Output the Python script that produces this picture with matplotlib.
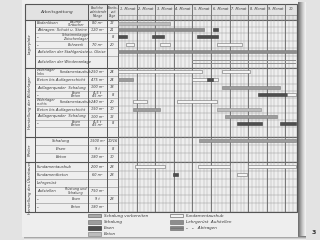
import matplotlib
matplotlib.use("Agg")
import matplotlib.pyplot as plt
from matplotlib.patches import Rectangle, Patch
import numpy as np

# ---------------- data ----------------
months = ["1. Monat", "2. Monat", "3. Monat", "4. Monat", "5. Monat",
          "6. Monat", "7. Monat", "8. Monat", "9. Monat", "10."]
sections = ["Lagerplatz", "Herstellung der Widerlager", "Pfeiler",
            "Herstellung des Überbaues"]
section_first_row = [0, 6, 15, 18]

tasks = ["Bodenlösen", "Abtragen: Schutt u. Steine", "„", "„",
         "Aufstellen der Stahlgerüste u. Gleise", "Aufstellen der Windenanlage",
         "Widerlager\nlinks", "Beton bis Auflagerschicht", "Auflagerquader  Schalung", "„",
         "Widerlager\nrechts", "Beton bis Auflagerschicht", "Auflagerquader  Schalung", "„", "",
         "Schalung", "Eisen", "Beton",
         "Fundamentaushub", "Fundamentbeton", "Lehrgerüst", "Aufstellen", "„", "„"]
task_sub = ["Bäume\nSträucher", "", "Schwimmbagger\nZwischenlager", "Bohrwerk", "", "",
            "Fundamentaushub", "", "", "Eisen\nBeton",
            "Fundamentaushub", "", "", "Eisen\nBeton", "",
            "", "", "",
            "", "", "", "Rüstung und\nSchalung", "Eisen", "Beton"]
quantities = ["80 m²", "120 m³", "", "70 m³", "", "",
              "250 m³", "475 m³", "100 m²", "4,5 t\n45 m³",
              "240 m³", "150 m³", "100 m²", "4,5 t\n45 m³", "",
              "1500 m²", "9 t", "180 m³",
              "200 m³", "60 m³", "", "750 m²", "9 t", "180 m³"]
work_days = ["12", "21", "8", "20", "", "",
             "24", "24", "18", "8",
             "20", "10", "12", "8", "",
             "10/16", "8", "10",
             "28", "28", "", "", "28", ""]

bar_row = [0, 1, 1, 2, 2, 2, 3, 3, 3, 4, 5,
           6, 6, 7, 7, 7, 8, 9, 9, 10, 10, 11, 11, 12, 13, 13,
           15, 18, 18, 18, 19, 19]
bar_start = [0.0, 0.0, 5.1, 0.0, 1.85, 4.25, 0.45, 2.25, 5.3, 0.0, 4.0,
             0.0, 5.6, 0.0, 4.0, 4.8, 5.6, 7.5, 9.1, 0.8, 3.15, 0.8, 5.3, 5.75, 6.4, 8.7,
             4.35, 0.9, 4.3, 7.0, 2.95, 6.4]
bar_length = [2.8, 4.6, 0.3, 0.5, 0.6, 1.1, 0.4, 0.55, 1.35, 9.57, 5.57,
              4.5, 1.5, 0.8, 1.4, 0.3, 3.1, 1.6, 0.45, 0.75, 2.15, 1.45, 2.4, 2.8, 1.35, 0.85,
              5.2, 1.6, 1.7, 2.55, 0.3, 0.55]
bar_kind = ["beton", "lehr", "eisen", "eisen", "eisen", "eisen", "fund", "fund", "fund", "lehr", "abbau",
            "fund", "fund", "schal", "fund", "eisen", "schal", "eisen", "fund", "fund", "fund", "schal", "beton",
            "schal", "eisen", "eisen",
            "schal", "fund", "fund", "fund", "eisen", "fund"]

legend_left = ["Schalung vorbereiten", "Schalung", "Eisen", "Beton"]
legend_left_kind = ["vorb", "schal", "eisen", "beton"]
legend_right = ["Fundamentaushub", "Lehrgerüst  Aufstellen", "„   „   Abtragen"]
legend_right_kind = ["fund", "lehr", "abbau"]

# ---------------- layout / style ----------------
styles = {
    "vorb": dict(facecolor="#a9a9a9", edgecolor="#6a6a6a"),
    "schal": dict(facecolor="#9c9c9c", edgecolor="#7a7a7a"),
    "eisen": dict(facecolor="#4e4e4e", edgecolor="#3a3a3a"),
    "beton": dict(facecolor="#bdbdbd", edgecolor="#8a8a8a"),
    "fund": dict(facecolor="#f4f4f4", edgecolor="#707070"),
    "lehr": dict(facecolor="#8d8d8d", edgecolor="#777777"),
    "abbau": dict(facecolor="#8d8d8d", edgecolor="#777777"),
}
row_edges = [20, 27, 33, 41, 48, 56, 68, 76, 84, 91, 98, 106, 113, 120, 127, 137,
             145, 153, 162, 171, 179, 187, 195, 203, 212]
section_edges = [20, 68, 137, 162, 212]
X0, X1, XL, XS, XM, XZ, XG = 22, 298, 25, 35, 88, 107, 118
Y_TOP, Y_BOT = 4, 212
MONTH_PX = 18.6
TXT = dict(family="DejaVu Sans", style="italic", color="#3a3a3a")

fig = plt.figure(figsize=(3.2, 2.4), dpi=100)
fig.patch.set_facecolor("#e3e3e3")

bg = fig.add_axes([0, 0, 1, 1])
bg.set_xlim(0, 320)
bg.set_ylim(240, 0)
bg.axis("off")

# shadow + paper
grad = np.linspace(0, 1, 50)[None, :]
bg.imshow(grad, extent=(X1, X1 + 8, 237, 2), cmap="Greys_r", vmin=-0.6, vmax=1.15,
          aspect="auto", zorder=0)
bg.imshow(grad.T, extent=(X0 + 2, X1 + 8, 237 + 3, 236), cmap="Greys_r", vmin=-0.6, vmax=1.15,
          aspect="auto", zorder=0)
bg.add_patch(Rectangle((X0, 0), X1 - X0, 237, facecolor="#eeeeee", edgecolor="none", zorder=1))
bg.add_patch(Rectangle((XL, Y_TOP), X1 - 1 - XL, 16, facecolor="#e2e2e2", edgecolor="none", zorder=1))

lc = "#555555"
# table frame and columns
bg.add_patch(Rectangle((XL, Y_TOP), X1 - 1 - XL, Y_BOT - Y_TOP, facecolor="none",
                       edgecolor=lc, lw=0.8, zorder=3))
bg.plot([XS, XS], [20, Y_BOT], color=lc, lw=0.7, zorder=3)
for x in (XM, XZ, XG):
    bg.plot([x, x], [Y_TOP, Y_BOT], color=lc, lw=0.7, zorder=3)
for y in section_edges[:-1]:
    bg.plot([XL, X1 - 1], [y, y], color=lc, lw=0.8, zorder=3)
for y in row_edges:
    if y not in section_edges:
        bg.plot([XS, XG], [y, y], color="#8a8a8a", lw=0.4, zorder=2)

bg.text((XS + XM) / 2 - 5, 12, "Arbeitsgattung", fontsize=3.2, ha="center", va="center", zorder=4, **TXT)
bg.text((XM + XZ) / 2, 12, "Bauliche\nzuleistende\nMenge", fontsize=2.2, ha="center", va="center",
        linespacing=0.95, zorder=4, **TXT)
bg.text((XZ + XG) / 2, 12, "Arbeits-\nzeit\nTage", fontsize=2.2, ha="center", va="center",
        linespacing=0.95, zorder=4, **TXT)

# section labels
sec_bounds = section_edges
for i, name in enumerate(sections):
    bg.text((XL + XS) / 2, (sec_bounds[i] + sec_bounds[i + 1]) / 2, name, rotation=90,
            fontsize=2.8, ha="center", va="center", zorder=4, **TXT)

# task rows
for i, t in enumerate(tasks):
    yc = (row_edges[i] + row_edges[i + 1]) / 2
    sub = task_sub[i]
    if sub:
        bg.text(XS + 2, yc, t, fontsize=2.4 if "\n" in t else 2.7, ha="left", va="center",
                zorder=4, linespacing=0.85, **TXT)
        bg.text(XS + 41, yc, sub, fontsize=2.4, ha="center", va="center", zorder=4,
                linespacing=0.85, **TXT)
    elif 15 <= i <= 17:
        bg.text((XS + XM) / 2, yc, t, fontsize=2.8, ha="center", va="center", zorder=4, **TXT)
    else:
        bg.text(XS + 2, yc, t, fontsize=2.7, ha="left", va="center", zorder=4, **TXT)
    if quantities[i]:
        bg.text((XM + XZ) / 2, yc, quantities[i], fontsize=2.5, ha="center", va="center",
                linespacing=0.85, zorder=4, **TXT)
    if work_days[i]:
        bg.text((XZ + XG) / 2, yc, work_days[i], fontsize=2.6, ha="center", va="center", zorder=4, **TXT)

# page number
bg.text(314, 232, "3", fontsize=4.5, fontweight="bold", color="#333333", ha="center", va="center")

# ---------------- gantt axes ----------------
n_months = (X1 - 1 - XG) / MONTH_PX
ax = fig.add_axes([XG / 320, 1 - Y_BOT / 240, (X1 - 1 - XG) / 320, (Y_BOT - Y_TOP) / 240])
ax.set_xlim(0, n_months)
ax.set_ylim(Y_BOT, Y_TOP)
ax.axis("off")
ax.patch.set_alpha(0)
ax.set_zorder(5)

for s in np.arange(0, n_months, 0.2):
    ax.plot([s, s], [15, Y_BOT], color="#a5a5a5", lw=0.3, zorder=1)
for m in range(len(months)):
    ax.plot([m, m], [Y_TOP, Y_BOT], color="#666666", lw=0.6, zorder=2)
    right = min(m + 1, n_months)
    ax.text((m + right) / 2, 9.5, months[m], fontsize=2.5, ha="center", va="center",
            clip_on=False, **TXT)
ax.plot([0, n_months], [15, 15], color="#777777", lw=0.4)
for y in row_edges:
    ax.plot([0, n_months], [y, y], color="#9a9a9a", lw=0.35, zorder=1)

for r, s, l, k in zip(bar_row, bar_start, bar_length, bar_kind):
    yc = (row_edges[r] + row_edges[r + 1]) / 2
    st = styles[k]
    if k == "abbau":
        ax.barh([yc - 1.2, yc + 1.2], [l, l], left=[s, s], height=0.9,
                color=st["facecolor"], edgecolor="none", zorder=3)
    else:
        ax.barh(yc, l, left=s, height=3.0, facecolor=st["facecolor"],
                edgecolor=st["edgecolor"], lw=0.4, zorder=3)

# ---------------- legends ----------------
def handles(kinds):
    out = []
    for k in kinds:
        st = styles[k]
        out.append(Patch(facecolor=st["facecolor"], edgecolor=st["edgecolor"], lw=0.5,
                         hatch="-----" if k == "abbau" else None))
    return out

leg_kw = dict(frameon=False, handlelength=3.0, handleheight=0.9,
              handletextpad=0.8, labelspacing=0.45, borderpad=0, borderaxespad=0,
              prop=dict(family="DejaVu Sans", style="italic", size=3))
l1 = bg.legend(handles(legend_left_kind), legend_left, loc="upper left",
               bbox_to_anchor=(88 / 320, 1 - 214 / 240), bbox_transform=fig.transFigure, **leg_kw)
for t in l1.get_texts():
    t.set_color("#3a3a3a")
bg.add_artist(l1)
l2 = bg.legend(handles(legend_right_kind), legend_right, loc="upper left",
               bbox_to_anchor=(170 / 320, 1 - 214 / 240), bbox_transform=fig.transFigure, **leg_kw)
for t in l2.get_texts():
    t.set_color("#3a3a3a")

fig.savefig("out.png", dpi=100, facecolor=fig.get_facecolor())
